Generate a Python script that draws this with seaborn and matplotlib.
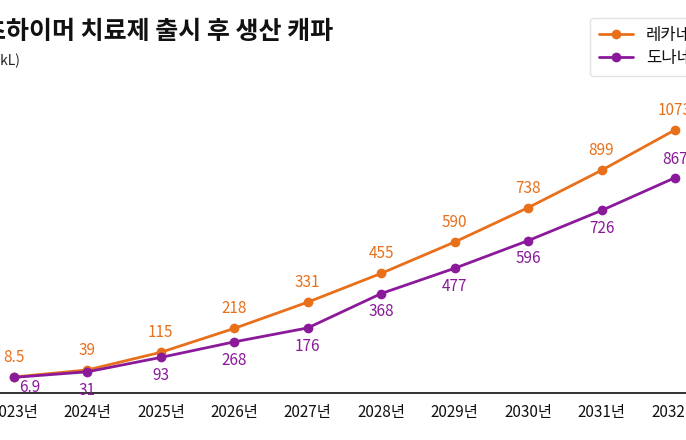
import matplotlib.pyplot as plt
import seaborn as sns
import pandas as pd

# data
years = ['2023년', '2024년', '2025년', '2026년', '2027년',
         '2028년', '2029년', '2030년', '2031년', '2032년']
lecanemab = [8.5, 39, 115, 218, 331, 455, 590, 738, 899, 1073]
# printed labels for donanemab (2026/2027 labels don't match the drawn points)
donanemab_labels = ['6.9', '31', '93', '268', '176', '368', '477', '596', '726', '867']
# point heights as drawn in the chart
donanemab = [6.9, 31, 93, 160, 220, 368, 477, 596, 726, 867]
series_names = ['레카네맙', '도나네맙']

orange = '#E8701A'
purple = '#8A1A9A'

sns.set_theme(style='white')
plt.rcParams['font.family'] = ['Noto Sans CJK KR', 'DejaVu Sans']

df = pd.DataFrame({'year': years * 2,
                   'value': lecanemab + donanemab,
                   'drug': [series_names[0]] * len(years) + [series_names[1]] * len(years)})
df['x'] = list(range(len(years))) * 2

fig = plt.figure(figsize=(6.86, 4.40), dpi=100)
ax = fig.add_axes([0, 0.107, 1, 0.689])

sns.lineplot(data=df, x='x', y='value', hue='drug', palette=[orange, purple],
             marker='o', markersize=7, markeredgewidth=0, linewidth=2, ax=ax)

# value labels: orange above, purple below
for i, v in enumerate(lecanemab):
    ax.annotate(f'{v:g}', (i, v), xytext=(0, 8), textcoords='offset points',
                ha='center', va='bottom', color=orange, fontsize=11)
for i, v in enumerate(donanemab):
    lab = donanemab_labels[i]
    if i == 0:
        ax.annotate(lab, (i, v), xytext=(4, -7), textcoords='offset points',
                    ha='left', va='center', color=purple, fontsize=11)
    elif i == len(donanemab) - 1:
        ax.annotate(lab, (i, v), xytext=(0, 7), textcoords='offset points',
                    ha='center', va='bottom', color=purple, fontsize=11)
    else:
        ax.annotate(lab, (i, v), xytext=(0, -7), textcoords='offset points',
                    ha='center', va='top', color=purple, fontsize=11)

ax.set_xlim(-0.19, 9.15)
ax.set_ylim(-60, 1246)
ax.set_xticks(range(len(years)))
ax.set_xticklabels(years, fontsize=11, color='#111111')
ax.set_yticks([])
ax.set_xlabel('')
ax.set_ylabel('')
ax.tick_params(axis='x', length=0, pad=8)
for s in ['top', 'left', 'right']:
    ax.spines[s].set_visible(False)
ax.spines['bottom'].set_color('#222222')
ax.spines['bottom'].set_linewidth(1.3)

leg = ax.legend(loc='upper left', bbox_to_anchor=(590 / 686, (440 - 18) / 440),
                bbox_transform=fig.transFigure, borderaxespad=0, frameon=True,
                fontsize=12, handlelength=2.0, borderpad=0.55, labelspacing=0.35)
leg.get_frame().set_edgecolor('#dddddd')
leg.get_frame().set_linewidth(1)
for t in leg.get_texts():
    t.set_color('#111111')

fig.text(-0.058, 0.928, '알츠하이머 치료제 출시 후 생산 캐파', fontsize=18,
         fontweight='bold', color='#111111', ha='left', va='center')
fig.text(-0.054, 0.864, '(단위: kL)', fontsize=10, color='#222222',
         ha='left', va='center')

fig.savefig('out.png', dpi=100)
